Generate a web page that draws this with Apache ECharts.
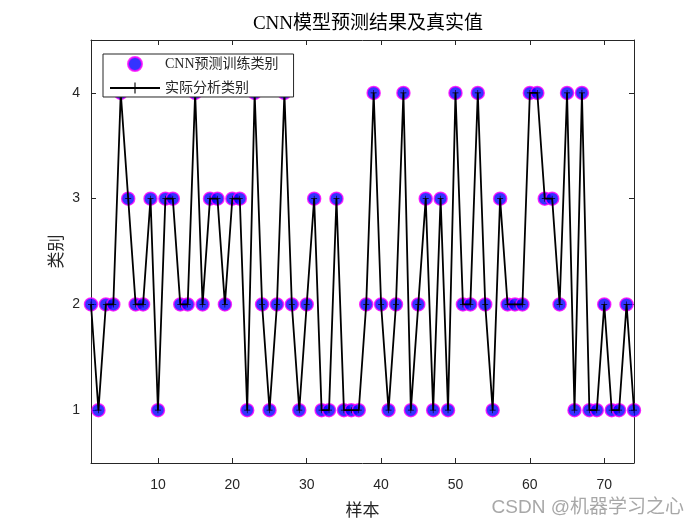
<!DOCTYPE html>
<html>
<head>
<meta charset="utf-8">
<script src="https://cdn.jsdelivr.net/npm/echarts@6/dist/echarts.min.js"></script>
<style>html,body{margin:0;padding:0;background:#fff;}#c{width:700px;height:525px;}</style>
</head>
<body>
<div id="c"></div>
<script>
const samples = [];
for (let i = 1; i <= 74; i++) samples.push(i);
const predicted = [2,1,2,2,4,3,2,2,3,1, 3,3,2,2,4,2,3,3,2,3, 3,1,4,2,1,2,4,2,1,2, 3,1,1,3,1,1,1,2,4,2, 1,2,4,1,2,3,1,3,1,4, 2,2,4,2,1,3,2,2,2,4, 4,3,3,2,4,1,4,1,1,2, 1,1,2,1];
const actual = predicted.slice();
const xTicks = [10,20,30,40,50,60,70];
const yTicks = [1,2,3,4];
const titleText = 'CNN模型预测结果及真实值';
const seriesNames = ['CNN预测训练类别','实际分析类别'];

const serif = '"Liberation Serif","Times New Roman","Noto Sans CJK SC",serif';
const sans = '"Liberation Sans",Arial,"Noto Sans CJK SC",sans-serif';
const axisCol = '#262626';
const plus = 'path://M-0.5,-5 L0.5,-5 L0.5,-0.5 L5,-0.5 L5,0.5 L0.5,0.5 L0.5,5 L-0.5,5 L-0.5,0.5 L-5,0.5 L-5,-0.5 L-0.5,-0.5 Z';

const chart = echarts.init(document.getElementById('c'));
const mainX = {
  type:'value', min:1, max:74, position:'bottom',
  axisLine:{show:true,onZero:false,lineStyle:{color:axisCol,width:1}},
  axisTick:{show:true,inside:true,length:5,customValues:xTicks,lineStyle:{color:axisCol}},
  axisLabel:{show:true,customValues:xTicks,color:axisCol,fontSize:14,fontFamily:sans,margin:15},
  splitLine:{show:false},
  name:'样本', nameLocation:'middle', nameGap:40, nameMoveOverlap:false,
  nameTextStyle:{fontFamily:serif,fontSize:17,color:axisCol}
};
const topX = {
  type:'value', min:1, max:74, position:'top',
  axisLine:{show:true,onZero:false,lineStyle:{color:axisCol,width:1}},
  axisTick:{show:true,inside:true,length:5,customValues:xTicks,lineStyle:{color:axisCol}},
  axisLabel:{show:false}, splitLine:{show:false}
};
const mainY = {
  type:'value', min:0.5, max:4.5, position:'left',
  axisLine:{show:true,onZero:false,lineStyle:{color:axisCol,width:1}},
  axisTick:{show:true,inside:true,length:5,customValues:yTicks,lineStyle:{color:axisCol}},
  axisLabel:{show:true,customValues:yTicks,color:axisCol,fontSize:14,fontFamily:sans,margin:11},
  splitLine:{show:false},
  name:'类别', nameLocation:'middle', nameGap:25, nameRotate:90, nameMoveOverlap:false,
  nameTextStyle:{fontFamily:serif,fontSize:17,color:axisCol}
};
const rightY = {
  type:'value', min:0.5, max:4.5, position:'right',
  axisLine:{show:true,onZero:false,lineStyle:{color:axisCol,width:1}},
  axisTick:{show:true,inside:true,length:5,customValues:yTicks,lineStyle:{color:axisCol}},
  axisLabel:{show:false}, splitLine:{show:false}
};

chart.setOption({
  animation:false,
  backgroundColor:'#fff',
  title:{text:titleText,left:363,top:10,textAlign:'center',
    textStyle:{fontFamily:serif,fontSize:19,fontWeight:'normal',color:'#000'}},
  grid:{left:91,right:66,top:40,bottom:60,containLabel:false},
  xAxis:[mainX, topX],
  yAxis:[mainY, rightY],
  legend:{
    orient:'vertical', left:103, top:54, padding:[2,15,2,6],
    backgroundColor:'#fff', borderColor:'#262626', borderWidth:1, borderRadius:0,
    itemWidth:50, itemHeight:14, itemGap:9,
    textStyle:{fontFamily:serif,fontSize:14,color:'#262626'},
    data:[
      {name:seriesNames[0], icon:'circle'},
      {name:seriesNames[1]}
    ]
  },
  series:[
    {
      name:seriesNames[0], type:'scatter', xAxisIndex:0, yAxisIndex:0,
      data:samples.map((x,i)=>[x,predicted[i]]),
      symbol:'circle', symbolSize:13,
      itemStyle:{color:'#0000ff',borderColor:'#ff00ff',borderWidth:1.5},
      z:2
    },
    {
      name:seriesNames[1], type:'line', xAxisIndex:0, yAxisIndex:0,
      data:samples.map((x,i)=>[x,actual[i]]),
      symbol:plus, symbolSize:6, showAllSymbol:true,
      lineStyle:{color:'#000',width:1.8},
      itemStyle:{color:'#000'},
      z:3
    }
  ],
  graphic:[
    {type:'text', right:16, bottom:8,
     style:{text:'CSDN @机器学习之心', fill:'#a8a8a8', font:'19px "Liberation Sans","Noto Sans CJK SC",sans-serif'}}
  ]
});
</script>
</body>
</html>
